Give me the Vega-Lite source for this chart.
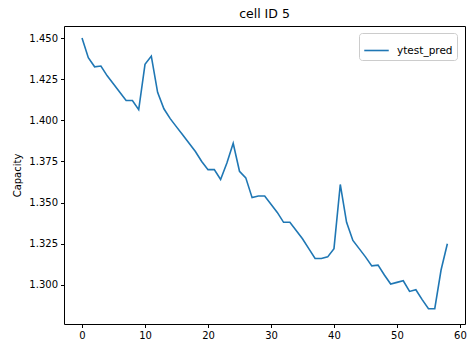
{
  "$schema": "https://vega.github.io/schema/vega-lite/v6.json",
  "width": 401,
  "height": 298,
  "autosize": {"type": "none"},
  "padding": {"left": 64, "top": 26, "right": 9, "bottom": 27},
  "background": "white",
  "title": {"text": "cell ID 5", "font": "DejaVu Sans", "fontSize": 12.5, "fontWeight": "normal", "color": "black", "offset": 6},
  "config": {
    "view": {"stroke": "black", "strokeWidth": 1},
    "axis": {"labelFont": "DejaVu Sans", "labelFontSize": 10, "labelColor": "black", "titleFont": "DejaVu Sans", "titleFontSize": 10, "titleFontWeight": "normal", "titleColor": "black", "grid": false, "domain": false, "tickColor": "black", "tickSize": 3.5, "labelPadding": 3}
  },
  "data": {"values": [
    {"x":0,"y":1.450},{"x":1,"y":1.438},{"x":2,"y":1.4325},{"x":3,"y":1.433},{"x":4,"y":1.427},
    {"x":5,"y":1.422},{"x":6,"y":1.417},{"x":7,"y":1.412},{"x":8,"y":1.412},{"x":9,"y":1.4065},
    {"x":10,"y":1.434},{"x":11,"y":1.439},{"x":12,"y":1.417},{"x":13,"y":1.407},{"x":14,"y":1.401},
    {"x":15,"y":1.396},{"x":16,"y":1.391},{"x":17,"y":1.386},{"x":18,"y":1.381},{"x":19,"y":1.375},
    {"x":20,"y":1.370},{"x":21,"y":1.370},{"x":22,"y":1.364},{"x":23,"y":1.374},{"x":24,"y":1.386},
    {"x":25,"y":1.369},{"x":26,"y":1.365},{"x":27,"y":1.353},{"x":28,"y":1.354},{"x":29,"y":1.354},
    {"x":30,"y":1.349},{"x":31,"y":1.344},{"x":32,"y":1.338},{"x":33,"y":1.338},{"x":34,"y":1.333},
    {"x":35,"y":1.328},{"x":36,"y":1.322},{"x":37,"y":1.316},{"x":38,"y":1.316},{"x":39,"y":1.317},
    {"x":40,"y":1.322},{"x":41,"y":1.361},{"x":42,"y":1.338},{"x":43,"y":1.327},{"x":44,"y":1.322},
    {"x":45,"y":1.317},{"x":46,"y":1.3115},{"x":47,"y":1.312},{"x":48,"y":1.306},{"x":49,"y":1.3005},
    {"x":50,"y":1.3015},{"x":51,"y":1.3025},{"x":52,"y":1.296},{"x":53,"y":1.297},{"x":54,"y":1.291},
    {"x":55,"y":1.2855},{"x":56,"y":1.2855},{"x":57,"y":1.309},{"x":58,"y":1.325}
  ]},
  "mark": {"type": "line", "strokeWidth": 1.6},
  "encoding": {
    "x": {"field": "x", "type": "quantitative", "scale": {"domain": [-2.86, 60.8], "nice": false, "zero": false}, "axis": {"tickCount": 7, "labelFlush": false, "labelOverlap": false, "title": null}},
    "y": {"field": "y", "type": "quantitative", "scale": {"domain": [1.2762, 1.4573], "nice": false, "zero": false}, "axis": {"values": [1.3,1.325,1.35,1.375,1.4,1.425,1.45], "format": ".3f", "title": "Capacity", "titlePadding": 6}},
    "color": {"datum": "ytest_pred", "type": "nominal", "scale": {"range": ["#1f77b4"]}, "legend": {"title": null, "orient": "none", "legendX": 295, "legendY": 7, "labelFont": "DejaVu Sans", "labelFontSize": 10.5, "labelColor": "black", "symbolType": "stroke", "symbolSize": 600, "symbolStrokeWidth": 1.6, "strokeColor": "#cccccc", "fillColor": "white", "padding": 4, "cornerRadius": 3, "labelOffset": 7}}
  }
}
